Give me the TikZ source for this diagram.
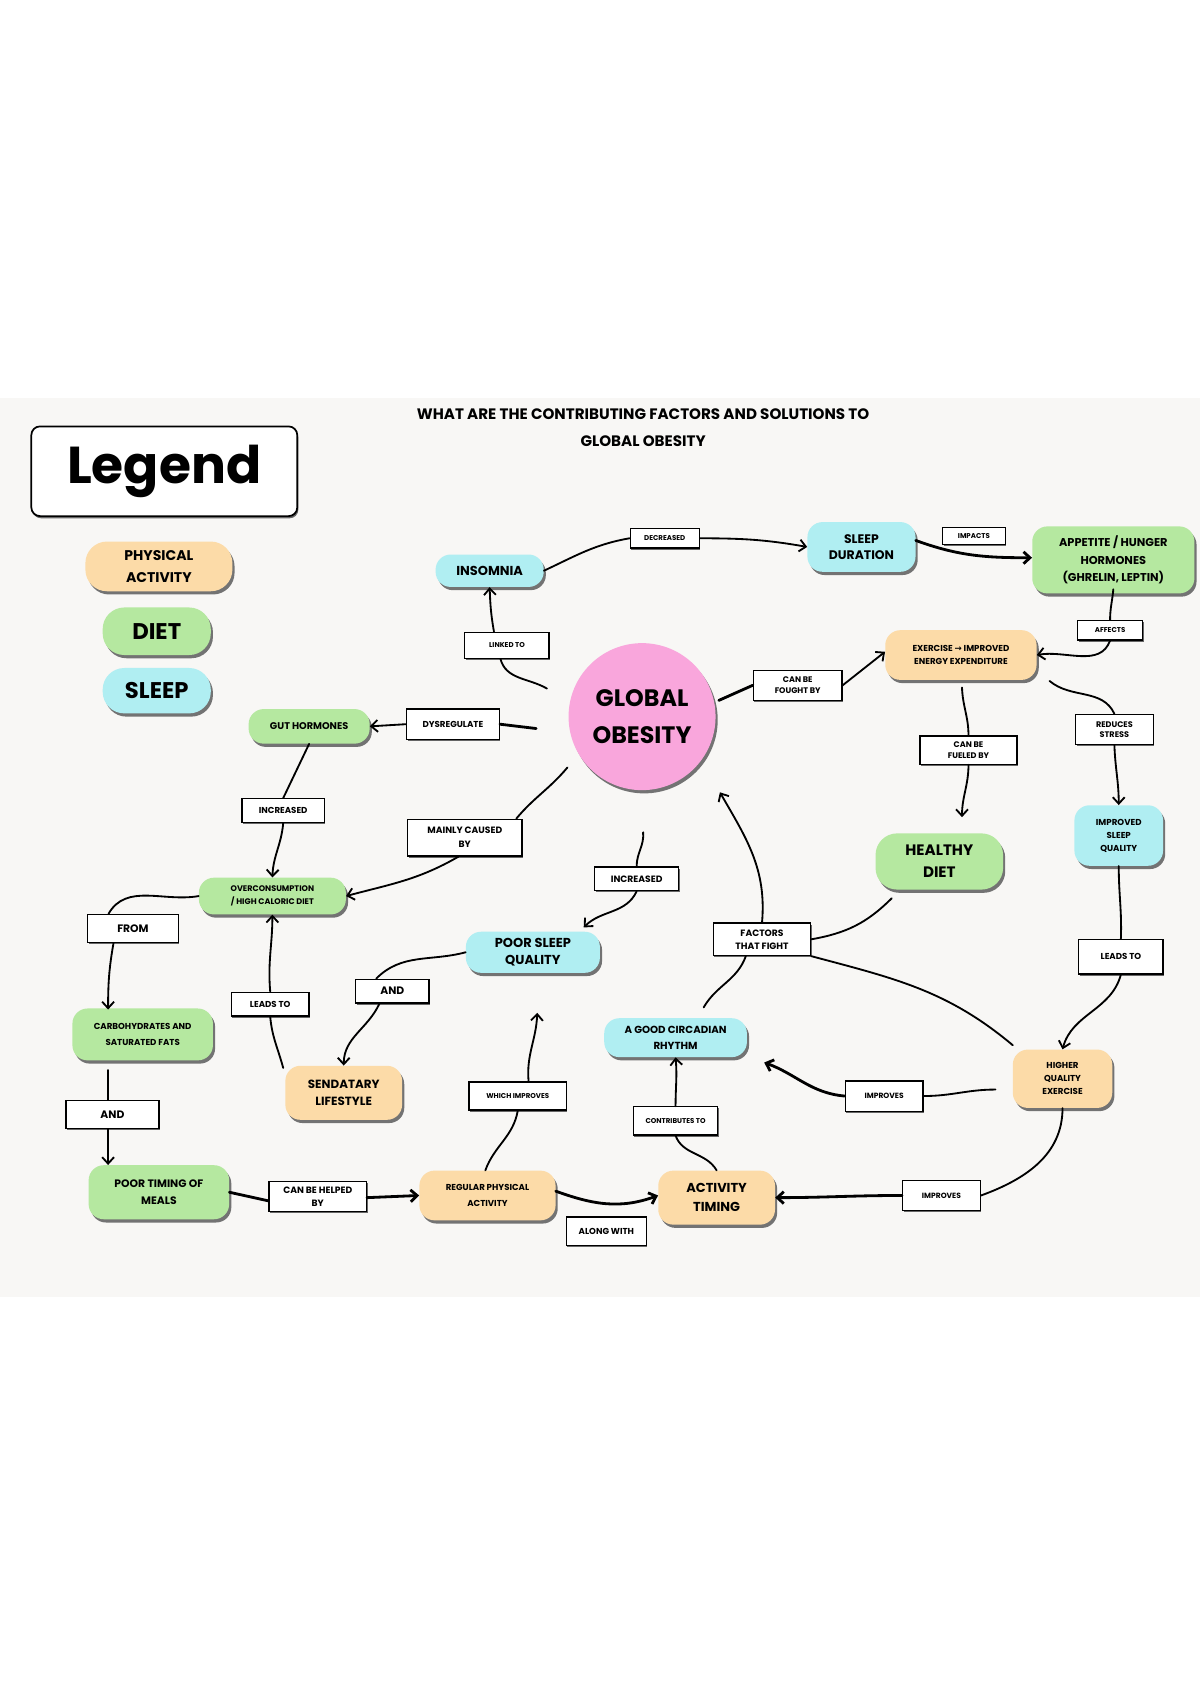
\documentclass[tikz,border=0pt]{standalone}
\usepackage{fontspec}
\setmainfont{Poppins}
\newfontfamily\djv{DejaVu Sans}
\usetikzlibrary{arrows.meta,shadows,shapes.geometric}
\definecolor{bgc}{HTML}{F8F7F5}
\definecolor{org}{HTML}{FCDBA8}
\definecolor{grn}{HTML}{B5E8A0}
\definecolor{cyn}{HTML}{B0EEF2}
\definecolor{pnk}{HTML}{F9A6DC}
\tikzset{
 cpt/.style={rounded corners=14pt,align=center,font=\bfseries\fontsize{11.5}{15}\selectfont,inner sep=1pt,
   drop shadow={shadow xshift=2pt,shadow yshift=-3pt,fill=black!55,opacity=1}},
 pa/.style={cpt,fill=org},
 dt/.style={cpt,fill=grn},
 sl/.style={cpt,fill=cyn},
 lbl/.style={draw=black,line width=1.2pt,fill=white,align=center,inner sep=1pt,font=\bfseries\fontsize{7.5}{10}\selectfont,
   drop shadow={shadow xshift=1pt,shadow yshift=-1.5pt,fill=black!60,opacity=1}},
 con/.style={line width=1.7pt,line cap=round},
 arr/.style={con,-{Straight Barb[length=6pt,width=11pt]}},
 thk/.style={line width=2.6pt},
}
\begin{document}
\begin{tikzpicture}[x=1pt,y=-1pt]
\useasboundingbox (0,0) rectangle (1110,1570);
\fill[white] (0,0) rectangle (1110,1570);
\fill[bgc] (0,368) rectangle (1110,1200);
% title
\node[font=\bfseries\fontsize{14}{25}\selectfont,align=center] (title) at (595,396) {WHAT ARE THE CONTRIBUTING FACTORS AND SOLUTIONS TO\\GLOBAL OBESITY};
% legend
\node[draw,line width=1.6pt,rounded corners=8pt,minimum width=246pt,minimum height=83pt,font=\bfseries\fontsize{48}{48}\selectfont,
 drop shadow={shadow xshift=1pt,shadow yshift=-2pt,fill=black!60,opacity=1},fill=white] (leg) at (152,436) {Legend};
\node[pa,minimum width=136pt,minimum height=46pt,font=\bfseries\fontsize{13}{21}\selectfont,rounded corners=20pt] (lpa) at (147,524) {PHYSICAL\\ACTIVITY};
\node[dt,minimum width=100pt,minimum height=44pt,font=\bfseries\fontsize{21}{22}\selectfont,rounded corners=20pt] (ldt) at (145,584) {DIET};
\node[sl,minimum width=100pt,minimum height=42pt,font=\bfseries\fontsize{21}{22}\selectfont,rounded corners=20pt] (lsl) at (145,639) {SLEEP};
% concepts
\node[sl,minimum width=100pt,minimum height=30pt,font=\bfseries\fontsize{12}{15}\selectfont] (ins) at (453,528) {INSOMNIA};
\node[sl,minimum width=100pt,minimum height=46pt] (sd) at (797,506) {SLEEP\\DURATION};
\node[dt,minimum width=150pt,minimum height=62pt,font=\bfseries\fontsize{10.5}{16}\selectfont] (app) at (1030,518) {APPETITE / HUNGER\\HORMONES\\(GHRELIN, LEPTIN)};
\node[circle,fill=pnk,minimum size=136pt,align=center,font=\bfseries\fontsize{22}{34}\selectfont,
 drop shadow={shadow xshift=2pt,shadow yshift=-3pt,fill=black!55,opacity=1}] (glob) at (594,663) {GLOBAL\\OBESITY};
\node[pa,minimum width=140pt,minimum height=46pt,font=\bfseries\fontsize{8}{12}\selectfont] (ex) at (889,606) {EXERCISE {\djv→} IMPROVED\\ENERGY EXPENDITURE};
\node[dt,minimum width=112pt,minimum height=32pt,font=\bfseries\fontsize{9}{12}\selectfont] (gut) at (286,672) {GUT HORMONES};
\node[dt,minimum width=136pt,minimum height=34pt,font=\bfseries\fontsize{7.5}{12}\selectfont] (ovc) at (252,829) {OVERCONSUMPTION\\/ HIGH CALORIC DIET};
\node[sl,minimum width=124pt,minimum height=38pt,font=\bfseries\fontsize{12}{16}\selectfont] (psq) at (493,881) {POOR SLEEP\\QUALITY};
\node[dt,minimum width=118pt,minimum height=52pt,font=\bfseries\fontsize{14}{20}\selectfont,rounded corners=20pt] (hd) at (869,797) {HEALTHY\\DIET};
\node[sl,minimum width=82pt,minimum height=56pt,font=\bfseries\fontsize{8}{12}\selectfont] (isq) at (1035,773) {IMPROVED\\SLEEP\\QUALITY};
\node[dt,minimum width=130pt,minimum height=48pt,font=\bfseries\fontsize{8}{14}\selectfont] (carb) at (132,957) {CARBOHYDRATES AND\\SATURATED FATS};
\node[pa,minimum width=108pt,minimum height=50pt,font=\bfseries\fontsize{11}{16}\selectfont] (sed) at (318,1011) {SENDATARY\\LIFESTYLE};
\node[sl,minimum width=132pt,minimum height=36pt,font=\bfseries\fontsize{9.5}{15}\selectfont] (circ) at (625,960) {A GOOD CIRCADIAN\\RHYTHM};
\node[pa,minimum width=92pt,minimum height=54pt,font=\bfseries\fontsize{8}{12}\selectfont] (hqe) at (983,998) {HIGHER\\QUALITY\\EXERCISE};
\node[dt,minimum width=130pt,minimum height=50pt,font=\bfseries\fontsize{10}{16}\selectfont] (ptm) at (147,1103) {POOR TIMING OF\\MEALS};
\node[pa,minimum width=126pt,minimum height=46pt,font=\bfseries\fontsize{8}{14}\selectfont] (rpa) at (451,1106) {REGULAR PHYSICAL\\ACTIVITY};
\node[pa,minimum width=108pt,minimum height=50pt,font=\bfseries\fontsize{12}{18}\selectfont] (at) at (663,1108) {ACTIVITY\\TIMING};
% labels
\node[lbl,minimum width=64pt,minimum height=18pt,font=\bfseries\fontsize{6.5}{8}\selectfont] (l1) at (615,498) {DECREASED};
\node[lbl,minimum width=58pt,minimum height=16pt,font=\bfseries\fontsize{6.5}{8}\selectfont] (l2) at (901,496) {IMPACTS};
\node[lbl,minimum width=78pt,minimum height=24pt,font=\bfseries\fontsize{6.5}{8}\selectfont] (l3) at (469,597) {LINKED TO};
\node[lbl,minimum width=60pt,minimum height=18pt,font=\bfseries\fontsize{6.5}{8}\selectfont] (l4) at (1027,583) {AFFECTS};
\node[lbl,minimum width=82pt,minimum height=28pt] (l5) at (738,634) {CAN BE\\FOUGHT BY};
\node[lbl,minimum width=86pt,minimum height=28pt,font=\bfseries\fontsize{8}{10}\selectfont] (l6) at (419,670) {DYSREGULATE};
\node[lbl,minimum width=90pt,minimum height=26pt] (l7) at (896,694) {CAN BE\\FUELED BY};
\node[lbl,minimum width=72pt,minimum height=28pt] (l8) at (1031,675) {REDUCES\\STRESS};
\node[lbl,minimum width=76pt,minimum height=22pt,font=\bfseries\fontsize{8}{9}\selectfont] (l9) at (262,750) {INCREASED};
\node[lbl,minimum width=106pt,minimum height=34pt,font=\bfseries\fontsize{8.5}{13}\selectfont] (l10) at (430,775) {MAINLY CAUSED\\BY};
\node[lbl,minimum width=78pt,minimum height=22pt,font=\bfseries\fontsize{8.5}{9}\selectfont] (l11) at (589,813) {INCREASED};
\node[lbl,minimum width=90pt,minimum height=30pt,font=\bfseries\fontsize{8.5}{12}\selectfont] (l12) at (705,869) {FACTORS\\THAT FIGHT};
\node[lbl,minimum width=78pt,minimum height=32pt,font=\bfseries\fontsize{8}{9}\selectfont] (l13) at (1037,885) {LEADS TO};
\node[lbl,minimum width=84pt,minimum height=26pt,font=\bfseries\fontsize{10}{10}\selectfont] (l14) at (123,859) {FROM};
\node[lbl,minimum width=68pt,minimum height=22pt,font=\bfseries\fontsize{10}{10}\selectfont] (l15) at (363,917) {AND};
\node[lbl,minimum width=72pt,minimum height=22pt,font=\bfseries\fontsize{8}{9}\selectfont] (l16) at (250,929) {LEADS TO};
\node[lbl,minimum width=90pt,minimum height=26pt,font=\bfseries\fontsize{6.5}{8}\selectfont] (l17) at (479,1014) {WHICH IMPROVES};
\node[lbl,minimum width=72pt,minimum height=28pt,font=\bfseries\fontsize{7}{8}\selectfont] (l18) at (818,1014) {IMPROVES};
\node[lbl,minimum width=86pt,minimum height=26pt,font=\bfseries\fontsize{10}{10}\selectfont] (l19) at (104,1031) {AND};
\node[lbl,minimum width=78pt,minimum height=26pt,font=\bfseries\fontsize{6.5}{8}\selectfont] (l20) at (625,1037) {CONTRIBUTES TO};
\node[lbl,minimum width=90pt,minimum height=28pt,font=\bfseries\fontsize{8.5}{12}\selectfont] (l21) at (294,1107) {CAN BE HELPED\\BY};
\node[lbl,minimum width=72pt,minimum height=28pt,font=\bfseries\fontsize{7}{8}\selectfont] (l22) at (871,1106) {IMPROVES};
\node[lbl,minimum width=74pt,minimum height=26pt,font=\bfseries\fontsize{8}{9}\selectfont] (l23) at (561,1139) {ALONG WITH};
% connectors
\draw[con] (ins.east) to[out=25,in=190] (l1.west);
\draw[arr] (l1.east) to[out=0,in=170] (sd.west);
\draw[arr,thk] ([yshift=6pt]sd.east) to[out=-20,in=180] ([yshift=2pt]app.west);
\draw[con] (app.south) ++(0,-4) to[out=-95,in=90] (l4.north);
\draw[arr] (l4.south) to[out=-110,in=10] (ex.east);
\draw[con,thk] (665,648) -- (l5.west);
\draw[arr] (l5.east) -- ([yshift=3pt]ex.west);
\draw[con] (506,637) to[out=150,in=-75] ([xshift=-6pt]l3.south);
\draw[arr] ([xshift=-12pt]l3.north) to[out=100,in=-88] (ins.south);
\draw[con,thk] (496,674) -- (l6.east);
\draw[arr] (l6.west) -- (gut.east);
\draw[con] (gut.south) -- (l9.north);
\draw[arr] (l9.south) to[out=-95,in=88] (ovc.north);
\draw[con] (525,710) to[out=-130,in=50] ([xshift=-6pt]l10.north east);
\draw[arr] ([xshift=-6pt]l10.south) to[out=-150,in=15] (ovc.east);
\draw[con] (595,770) to[out=-85,in=90] (l11.north);
\draw[arr] (l11.south) to[out=-115,in=45] (540,858);
\draw[con] (890,636) to[out=-88,in=90] (l7.north);
\draw[arr] (l7.south) to[out=-90,in=90] (890,756);
\draw[con] (971,630) to[out=-40,in=115] (l8.north);
\draw[arr] (l8.south) to[out=-88,in=90] (isq.north);
\draw[con] (isq.south) to[out=-90,in=88] (l13.north);
\draw[arr] (l13.south) to[out=-105,in=75] (hqe.north);
\draw[con] (ovc.west) to[out=190,in=60] ([xshift=20pt]l14.north west);
\draw[arr] ([xshift=-18pt]l14.south) to[out=-100,in=90] (100,934);
\draw[con] (psq.west) to[out=195,in=45] ([xshift=-15pt]l15.north);
\draw[arr] ([xshift=-12pt]l15.south) to[out=-115,in=90] (sed.north);
\draw[con] (262,988) to[out=105,in=-85] (l16.south);
\draw[arr] (l16.north) to[out=95,in=-90] (ovc.south);
\draw[con] (100,990) -- (l19.north -| 100,0);
\draw[arr] (l19.south -| 100,0) -- (ptm.north -| 100,0);
\draw[con,thk] (ptm.east) -- ([yshift=-4pt]l21.west);
\draw[arr,thk] ([yshift=-1pt]l21.east) -- (rpa.west);
\draw[con] (rpa.north) ++(-2,0) to[out=70,in=-100] (l17.south);
\draw[arr] ([xshift=10pt]l17.north) to[out=95,in=-92] (497,937);
\draw[arr,thk] ([yshift=4pt]rpa.east) to[out=-20,in=200] ([yshift=2pt]at.west);
\draw[con] (at.north) to[out=120,in=-70] (l20.south);
\draw[arr] (l20.north) to[out=90,in=-85] (circ.south);
\draw[con] (921,1008) to[out=180,in=0] (l18.east);
\draw[arr,thk] (l18.west) to[out=175,in=-20] (707,983);
\draw[con] (hqe.south) to[out=-90,in=20] (l22.east);
\draw[arr,thk] (l22.west) to[out=180,in=0] (at.east);
\draw[con] (825,831) to[out=-135,in=10] (l12.east);
\draw[con] (651,932) to[out=60,in=-110] ([xshift=-15pt]l12.south);
\draw[con] (l12.south east) to[out=-15,in=140] (937,967);
\draw[arr] (l12.north) to[out=85,in=-60] (666,733);
\end{tikzpicture}
\end{document}
